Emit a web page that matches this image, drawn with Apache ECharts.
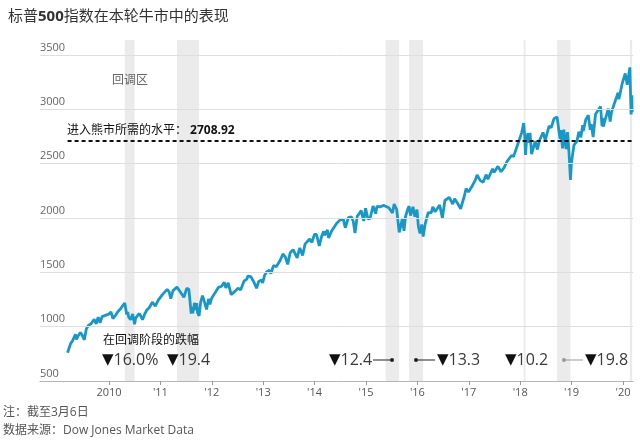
<!DOCTYPE html>
<html>
<head>
<meta charset="utf-8">
<script src="https://cdn.jsdelivr.net/npm/echarts@6/dist/echarts.min.js"></script>
<style>
html, body { margin: 0; padding: 0; background: #fff; }
#chart { width: 640px; height: 442px; }
</style>
</head>
<body>
<div id="chart"></div>
<script>
// 标普500收盘点位（按图读取，约每两周一个点）
const dates = [
  '2009-03-13','2009-03-27','2009-04-03','2009-04-17','2009-04-24','2009-05-08','2009-05-15','2009-05-29','2009-06-12','2009-06-26',
  '2009-07-10','2009-07-24','2009-08-07','2009-08-14','2009-08-28','2009-09-18','2009-10-02','2009-10-16','2009-10-30','2009-11-13',
  '2009-11-27','2009-12-11','2009-12-31','2010-01-15','2010-01-29','2010-02-05','2010-02-19','2010-03-05','2010-03-26','2010-04-09',
  '2010-04-23','2010-05-07','2010-05-14','2010-05-21','2010-06-04','2010-06-18','2010-07-02','2010-07-09','2010-07-23','2010-08-06',
  '2010-08-27','2010-09-10','2010-09-24','2010-10-15','2010-11-05','2010-11-26','2010-12-17','2010-12-31','2011-01-14','2011-01-28',
  '2011-02-18','2011-03-04','2011-03-16','2011-04-01','2011-04-15','2011-04-29','2011-05-13','2011-05-27','2011-06-17','2011-07-07',
  '2011-07-22','2011-08-08','2011-08-12','2011-08-19','2011-08-31','2011-09-09','2011-09-16','2011-09-22','2011-09-30','2011-10-03',
  '2011-10-14','2011-10-27','2011-11-04','2011-11-25','2011-12-09','2011-12-19','2011-12-30','2012-01-13','2012-01-27','2012-02-17',
  '2012-03-09','2012-03-30','2012-04-10','2012-04-27','2012-05-18','2012-06-01','2012-06-22','2012-07-06','2012-07-24','2012-08-17',
  '2012-09-07','2012-09-14','2012-10-05','2012-10-26','2012-11-15','2012-11-30','2012-12-21','2012-12-28','2013-01-11','2013-01-25',
  '2013-02-15','2013-02-25','2013-03-15','2013-04-05','2013-04-18','2013-05-03','2013-05-21','2013-06-07','2013-06-24','2013-07-12',
  '2013-08-02','2013-08-30','2013-09-18','2013-10-08','2013-10-25','2013-11-08','2013-11-27','2013-12-13','2013-12-31','2014-01-15',
  '2014-02-03','2014-02-21','2014-03-07','2014-03-14','2014-04-02','2014-04-11','2014-05-02','2014-05-16','2014-06-06','2014-06-20',
  '2014-07-03','2014-07-24','2014-08-07','2014-08-29','2014-09-19','2014-10-03','2014-10-15','2014-10-31','2014-11-14','2014-11-28',
  '2014-12-16','2014-12-29','2015-01-15','2015-01-30','2015-02-20','2015-03-11','2015-03-20','2015-04-10','2015-04-24','2015-05-08',
  '2015-05-21','2015-06-12','2015-06-26','2015-07-08','2015-07-20','2015-08-07','2015-08-19','2015-08-25','2015-09-04','2015-09-16',
  '2015-09-28','2015-10-09','2015-10-23','2015-11-03','2015-11-13','2015-12-01','2015-12-14','2015-12-29','2016-01-08','2016-01-20',
  '2016-02-01','2016-02-11','2016-02-26','2016-03-18','2016-04-08','2016-04-20','2016-05-06','2016-05-19','2016-06-08','2016-06-27',
  '2016-07-15','2016-08-15','2016-09-09','2016-09-22','2016-10-14','2016-11-04','2016-11-30','2016-12-13','2016-12-30','2017-01-26',
  '2017-02-17','2017-03-01','2017-03-24','2017-04-13','2017-05-05','2017-05-17','2017-06-19','2017-06-29','2017-07-27','2017-08-18',
  '2017-09-08','2017-09-29','2017-10-31','2017-11-15','2017-12-18','2017-12-29','2018-01-12','2018-01-26','2018-02-02','2018-02-08',
  '2018-02-16','2018-02-26','2018-03-02','2018-03-12','2018-03-23','2018-04-02','2018-04-18','2018-05-03','2018-05-18','2018-06-12',
  '2018-06-28','2018-07-25','2018-08-10','2018-08-29','2018-09-20','2018-10-03','2018-10-11','2018-10-17','2018-10-29','2018-11-07',
  '2018-11-23','2018-12-03','2018-12-14','2018-12-24','2018-12-31','2019-01-18','2019-02-08','2019-02-22','2019-03-08','2019-03-21',
  '2019-03-25','2019-04-12','2019-04-30','2019-05-13','2019-05-21','2019-06-03','2019-06-20','2019-07-26','2019-08-05','2019-08-09',
  '2019-08-14','2019-08-23','2019-09-19','2019-10-02','2019-10-11','2019-10-28','2019-11-27','2019-12-03','2019-12-27','2020-01-17',
  '2020-01-31','2020-02-19','2020-02-27','2020-02-28','2020-03-03','2020-03-04','2020-03-06'
];
const closes = [
  760, 815, 842, 869, 866, 929, 882, 919, 946, 918,
  879, 979, 1010, 1004, 1029, 1068, 1025, 1087, 1036, 1093,
  1091, 1106, 1115, 1136, 1074, 1066, 1109, 1138, 1167, 1194,
  1217, 1111, 1136, 1087, 1064, 1117, 1022, 1078, 1102, 1121,
  1065, 1110, 1148, 1176, 1225, 1189, 1244, 1258, 1293, 1276,
  1343, 1321, 1257, 1332, 1319, 1364, 1338, 1331, 1271, 1353,
  1345, 1119, 1179, 1123, 1219, 1154, 1216, 1129, 1131, 1099,
  1225, 1285, 1253, 1159, 1255, 1206, 1258, 1289, 1316, 1361,
  1370, 1408, 1358, 1403, 1295, 1278, 1335, 1354, 1338, 1418,
  1438, 1466, 1461, 1412, 1353, 1416, 1430, 1402, 1472, 1503,
  1519, 1488, 1561, 1553, 1541, 1614, 1669, 1643, 1573, 1681,
  1709, 1633, 1725, 1655, 1759, 1770, 1807, 1775, 1848, 1848,
  1742, 1836, 1878, 1841, 1890, 1816, 1881, 1878, 1949, 1962,
  1985, 1987, 1910, 2003, 2011, 1967, 1862, 2018, 2039, 2068,
  1972, 2090, 1992, 1995, 2110, 2040, 2108, 2102, 2117, 2116,
  2131, 2094, 2102, 2046, 2128, 2078, 2079, 1867, 1921, 1996,
  1881, 2014, 2075, 2109, 2023, 2103, 2012, 2078, 1922, 1859,
  1940, 1829, 1948, 2049, 2047, 2102, 2057, 2040, 2119, 2000,
  2161, 2190, 2128, 2177, 2133, 2085, 2200, 2271, 2239, 2297,
  2351, 2396, 2344, 2329, 2399, 2357, 2453, 2419, 2475, 2426,
  2461, 2519, 2575, 2565, 2690, 2674, 2786, 2873, 2762, 2581,
  2732, 2780, 2691, 2783, 2588, 2582, 2708, 2630, 2713, 2787,
  2716, 2846, 2833, 2914, 2931, 2925, 2728, 2809, 2641, 2814,
  2633, 2790, 2600, 2351, 2507, 2671, 2708, 2793, 2743, 2855,
  2798, 2907, 2946, 2812, 2864, 2744, 2954, 3026, 2845, 2919,
  2840, 2847, 3006, 2887, 2970, 3039, 3153, 3093, 3240, 3330,
  3225, 3386, 2979, 2954, 3003, 3130, 2972
];

// 回调区（起止日期）
const corrections = [
  ['2010-04-23', '2010-07-02'],
  ['2011-04-29', '2011-10-03'],
  ['2015-05-21', '2015-08-25'],
  ['2015-11-03', '2016-02-11'],
  ['2018-01-26', '2018-02-08'],
  ['2018-09-20', '2018-12-24'],
  ['2020-02-19', '2020-03-06']
];
const drops = ['16.0%', '19.4', '12.4', '13.3', '10.2', '19.8'];
const bearLevel = 2708.92;

const yTicks = [500, 1000, 1500, 2000, 2500, 3000, 3500];
const xTicks = [2010, 2011, 2012, 2013, 2014, 2015, 2016, 2017, 2018, 2019, 2020];
const xTickLabels = ['2010', "'11", "'12", "'13", "'14", "'15", "'16", "'17", "'18", "'19", "'20"];

// 日期 -> 小数年份
function toYear(s) {
  const d = Date.UTC(+s.slice(0, 4), +s.slice(5, 7) - 1, +s.slice(8, 10));
  const y = +s.slice(0, 4);
  const a = Date.UTC(y, 0, 1), b = Date.UTC(y + 1, 0, 1);
  return y + (d - a) / (b - a);
}

const FONT = "'Open Sans', 'Noto Sans CJK SC', sans-serif";
const lineData = dates.map((d, i) => [toYear(d), closes[i]]);

// 跌幅标注的版式
const dropPos = [102, 167, 329, 437, 505, 585];
const dropText = drops.map((v, i) => ({
  type: 'text',
  z: 100,
  left: dropPos[i],
  top: 352,
  style: {
    text: '{t|▼}{n|' + v + '}',
    rich: {
      t: { fontFamily: 'DejaVu Sans', fontSize: 15, fill: '#111' },
      n: { fontFamily: FONT, fontSize: 16, fill: '#3a3a3a' }
    }
  }
}));

const chart = echarts.init(document.getElementById('chart'));
chart.setOption({
  animation: false,
  backgroundColor: '#fff',
  title: {
    left: 3,
    top: 4,
    text: '{a|标普}{b|500}{a|指数在本轮牛市中的表现}',
    textStyle: {
      rich: {
        a: { fontFamily: FONT, fontSize: 15, color: '#333', fontWeight: 'normal' },
        b: { fontFamily: FONT, fontSize: 15, color: '#333', fontWeight: 'bold' }
      }
    }
  },
  grid: { left: 40, right: 7, top: 40, bottom: 61 },
  xAxis: {
    type: 'value',
    min: 2008.658,
    max: 2020.195,
    splitLine: { show: false },
    axisLine: { lineStyle: { color: '#b5b5b5' } },
    axisTick: { customValues: xTicks, length: 4, lineStyle: { color: '#999' } },
    axisLabel: {
      customValues: xTicks,
      formatter: v => xTickLabels[xTicks.indexOf(Math.round(v))],
      color: '#555',
      fontFamily: FONT,
      fontSize: 11,
      margin: 6
    }
  },
  yAxis: {
    type: 'value',
    min: 500,
    max: 3638,
    splitLine: { show: false },
    axisLine: { show: false },
    axisTick: { show: false },
    axisLabel: {
      customValues: yTicks,
      formatter: v => String(v),
      inside: true,
      margin: 0,
      verticalAlign: 'bottom',
      padding: [0, 0, 2, 0],
      color: '#666',
      fontFamily: FONT,
      fontSize: 11
    }
  },
  series: [
    {
      // 背景：回调区
      type: 'line',
      data: [],
      silent: true,
      z: 1,
      markArea: {
        silent: true,
        itemStyle: { color: '#ebebeb' },
        data: corrections.map(([a, b]) => [{ xAxis: toYear(a) }, { xAxis: toYear(b) }])
      }
    },
    {
      type: 'line',
      data: lineData,
      showSymbol: false,
      z: 3,
      lineStyle: { color: '#1998c8', width: 2.8 },
      itemStyle: { color: '#1998c8' },
      markLine: {
        silent: true,
        symbol: 'none',
        label: { show: false },
        data: [
          // 网格线
          ...yTicks.slice(1).map(v => [
            { coord: [2008.658, v], lineStyle: { color: '#dedede', width: 1, type: 'solid' } },
            { coord: [2020.195, v] }
          ]),
          // 熊市线
          [
            { coord: [lineData[0][0], bearLevel], lineStyle: { color: '#111', width: 2, type: [4, 3] } },
            { coord: [lineData[lineData.length - 1][0], bearLevel] }
          ]
        ]
      }
    }
  ],
  graphic: [
    {
      type: 'text', z: 100, left: 112, top: 75,
      style: { text: '回调区', fontFamily: FONT, fontSize: 12, fill: '#666' }
    },
    {
      type: 'text', z: 100, left: 67, top: 125,
      style: {
        text: '{a|进入熊市所需的水平： }{b|' + bearLevel.toFixed(2) + '}',
        rich: {
          a: { fontFamily: FONT, fontSize: 12, fill: '#111' },
          b: { fontFamily: FONT, fontSize: 12, fill: '#111', fontWeight: 'bold' }
        }
      }
    },
    {
      type: 'text', z: 100, left: 103, top: 335,
      style: { text: '在回调阶段的跌幅', fontFamily: FONT, fontSize: 12, fill: '#111' }
    },
    ...dropText,
    // 连接线
    { type: 'line', z: 100, shape: { x1: 373, y1: 360, x2: 392, y2: 360 }, style: { stroke: '#222', lineWidth: 1 } },
    { type: 'circle', z: 100, shape: { cx: 392, cy: 360, r: 2 }, style: { fill: '#222' } },
    { type: 'line', z: 100, shape: { x1: 416, y1: 360, x2: 435, y2: 360 }, style: { stroke: '#222', lineWidth: 1 } },
    { type: 'circle', z: 100, shape: { cx: 416, cy: 360, r: 2 }, style: { fill: '#222' } },
    { type: 'line', z: 100, shape: { x1: 564, y1: 360, x2: 583, y2: 360 }, style: { stroke: '#999', lineWidth: 1 } },
    { type: 'circle', z: 100, shape: { cx: 564, cy: 360, r: 2 }, style: { fill: '#999' } },
    {
      type: 'text', z: 100, left: 3, top: 407,
      style: { text: '注：截至3月6日', fontFamily: FONT, fontSize: 12, fill: '#555' }
    },
    {
      type: 'text', z: 100, left: 3, top: 425,
      style: { text: '数据来源：Dow Jones Market Data', fontFamily: FONT, fontSize: 12, fill: '#555' }
    }
  ]
});
</script>
</body>
</html>
